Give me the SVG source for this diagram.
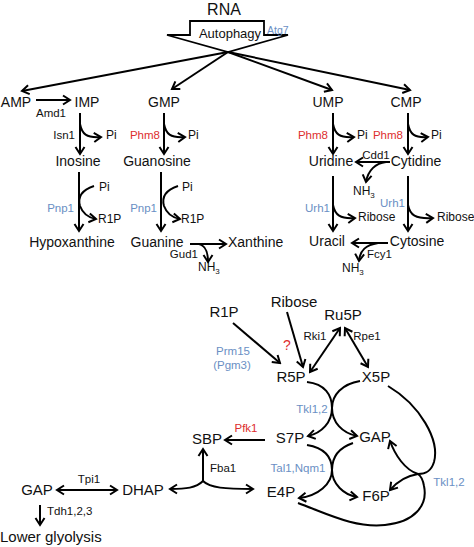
<svg xmlns="http://www.w3.org/2000/svg" width="474" height="547" viewBox="0 0 474 547">
<style>
text{font-family:"Liberation Sans",Arial,Helvetica,sans-serif;fill:#111}
.m{font-size:14px;text-anchor:middle}
.l{font-size:15px;text-anchor:middle}
.s{font-size:12px}
.e{font-size:11.5px}
.b{fill:#6a8fc4}
.r{fill:#dd2e2e}
.c path,.c line{fill:none;stroke:#000;stroke-width:2}
.a{marker-end:url(#ah)}
.d{marker-start:url(#ah);marker-end:url(#ah)}
</style>
<defs>
<marker id="ah" viewBox="-10 -6 12 12" markerWidth="12" markerHeight="12" refX="0" refY="0" orient="auto-start-reverse" markerUnits="userSpaceOnUse">
<path d="M-7,-4.5 L0,0 L-7,4.5" fill="none" stroke="#000" stroke-width="2"/>
</marker>
</defs>
<rect width="474" height="547" fill="#fff"/>

<g id="rna"><text x="224" y="15" class="l" style="font-size:16px">RNA</text></g>
<g id="autophagy">
<path d="M190,21 L264,21 L264,35 L288,35 L228,52 L167,35 L190,35 Z" fill="#fff" stroke="#000" stroke-width="1.8"/>
<text x="230" y="38" style="font-size:13px;text-anchor:middle">Autophagy</text>
<text x="267" y="34" class="b" style="font-size:10.5px">Atg7</text>
</g>

<g id="amp"><text x="16" y="107" class="m">AMP</text></g>
<g id="imp"><text x="87" y="107" class="m">IMP</text></g>
<g id="gmp"><text x="164" y="107" class="m">GMP</text></g>
<g id="ump"><text x="328" y="107" class="m">UMP</text></g>
<g id="cmp"><text x="406" y="107" class="m">CMP</text></g>
<g id="inosine"><text x="78" y="166" class="m">Inosine</text></g>
<g id="guanosine"><text x="157" y="166" class="m">Guanosine</text></g>
<g id="uridine"><text x="331" y="166" class="m">Uridine</text></g>
<g id="cytidine"><text x="416" y="166" class="m">Cytidine</text></g>
<g id="hypoxanthine"><text x="72" y="247" class="m">Hypoxanthine</text></g>
<g id="guanine"><text x="157" y="247" class="m">Guanine</text></g>
<g id="xanthine"><text x="228" y="247" style="font-size:14px">Xanthine</text></g>
<g id="uracil"><text x="327" y="246" class="m">Uracil</text></g>
<g id="cytosine"><text x="417" y="246" class="m">Cytosine</text></g>

<g id="byproducts1">
<text x="106" y="139" class="s">Pi</text>
<text x="188" y="139" class="s">Pi</text>
<text x="357" y="139" class="s">Pi</text>
<text x="431" y="139" class="s">Pi</text>
<text x="99" y="191" class="s">Pi</text>
<text x="182" y="191" class="s">Pi</text>
<text x="98" y="223" class="s">R1P</text>
<text x="181" y="223" class="s">R1P</text>
<text x="358" y="221" class="s">Ribose</text>
<text x="437" y="221" class="s">Ribose</text>
<text x="353" y="195" class="s">NH<tspan font-size="8" dy="3">3</tspan></text>
<text x="198" y="271" class="s">NH<tspan font-size="8" dy="3">3</tspan></text>
<text x="342" y="272" class="s">NH<tspan font-size="8" dy="3">3</tspan></text>
</g>

<g id="r1p"><text x="224" y="317" class="l">R1P</text></g>
<g id="ribose"><text x="294" y="307" class="l">Ribose</text></g>
<g id="ru5p"><text x="343" y="320" class="l">Ru5P</text></g>
<g id="r5p"><text x="291" y="382" class="l">R5P</text></g>
<g id="x5p"><text x="376" y="382" class="l">X5P</text></g>
<g id="s7p"><text x="290" y="443" class="l">S7P</text></g>
<g id="gap"><text x="375" y="442" class="l">GAP</text></g>
<g id="sbp"><text x="207" y="444" class="l">SBP</text></g>
<g id="e4p"><text x="281" y="497" class="l">E4P</text></g>
<g id="f6p"><text x="376" y="501" class="l">F6P</text></g>
<g id="gap2"><text x="37" y="495" class="l">GAP</text></g>
<g id="dhap"><text x="143" y="495" class="l">DHAP</text></g>
<g id="lower"><text x="0" y="542" style="font-size:15px">Lower glyolysis</text></g>

<g id="enzymes">
<text x="51" y="117" class="e" text-anchor="middle">Amd1</text>
<text x="75" y="139" class="e" text-anchor="end">Isn1</text>
<text x="160" y="139" class="e r" text-anchor="end">Phm8</text>
<text x="328" y="139" class="e r" text-anchor="end">Phm8</text>
<text x="403" y="139" class="e r" text-anchor="end">Phm8</text>
<text x="376" y="159" class="e" text-anchor="middle">Cdd1</text>
<text x="74" y="212" class="e b" text-anchor="end">Pnp1</text>
<text x="157" y="212" class="e b" text-anchor="end">Pnp1</text>
<text x="330" y="212" class="e b" text-anchor="end">Urh1</text>
<text x="405" y="207" class="e b" text-anchor="end">Urh1</text>
<text x="198" y="258" class="e" text-anchor="end">Gud1</text>
<text x="367" y="258" class="e">Fcy1</text>
<text x="233" y="355" class="e b" text-anchor="middle">Prm15</text>
<text x="232" y="369" class="e b" text-anchor="middle">(Pgm3)</text>
<text x="287" y="350" class="r" style="font-size:14px;text-anchor:middle">?</text>
<text x="315" y="340" class="e" text-anchor="middle">Rki1</text>
<text x="367" y="340" class="e" text-anchor="middle">Rpe1</text>
<text x="312" y="413" class="e b" text-anchor="middle">Tkl1,2</text>
<text x="246" y="432" class="e r" text-anchor="middle">Pfk1</text>
<text x="210" y="472" class="e">Fba1</text>
<text x="298" y="472" class="e b" text-anchor="middle">Tal1,Nqm1</text>
<text x="449" y="486" class="e b" text-anchor="middle">Tkl1,2</text>
<text x="89" y="483" class="e" text-anchor="middle">Tpi1</text>
<text x="47" y="515" class="e">Tdh1,2,3</text>
</g>

<g id="connectors" class="c">
<line class="a" x1="228" y1="52" x2="22" y2="91"/>
<line class="a" x1="228" y1="52" x2="172" y2="89"/>
<line class="a" x1="228" y1="52" x2="332" y2="90"/>
<line class="a" x1="228" y1="52" x2="410" y2="90"/>
<line class="a" x1="36" y1="100" x2="70" y2="100"/>

<line class="a" x1="80" y1="113" x2="80" y2="154"/>
<path class="a" d="M80,124 C82,134 86,138 101,137"/>
<line class="a" x1="164" y1="113" x2="164" y2="154"/>
<path class="a" d="M164,124 C166,134 170,138 185,137"/>
<line class="a" x1="333" y1="113" x2="333" y2="154"/>
<path class="a" d="M333,124 C335,134 339,138 354,137"/>
<line class="a" x1="408" y1="113" x2="408" y2="154"/>
<path class="a" d="M408,124 C410,134 414,138 428,137"/>

<line class="a" x1="390" y1="162" x2="356" y2="162"/>
<path class="a" d="M386,162 C376,163 368,170 366,182"/>

<line class="a" x1="79" y1="172" x2="79" y2="231"/>
<path class="a" d="M94,186 Q76,192 80,206 Q84,217 96,219"/>
<line class="a" x1="161" y1="172" x2="161" y2="231"/>
<path class="a" d="M178,186 Q160,192 164,206 Q168,217 180,219"/>
<line class="a" x1="333" y1="176" x2="333" y2="231"/>
<path class="a" d="M333,205 C335,215 340,219 355,218"/>
<line class="a" x1="408" y1="176" x2="408" y2="231"/>
<path class="a" d="M408,205 C410,215 415,219 433,218"/>

<line class="a" x1="190" y1="244" x2="226" y2="244"/>
<path class="a" d="M199,244 C206,246 208,252 208,262"/>
<line class="a" x1="388" y1="243" x2="352" y2="243"/>
<path class="a" d="M378,243 C366,245 360,250 359,261"/>

<line class="a" x1="233" y1="323" x2="280" y2="363"/>
<line class="a" x1="287" y1="312" x2="303" y2="367"/>
<line class="d" x1="310" y1="372" x2="340" y2="328"/>
<line class="d" x1="345" y1="328" x2="368" y2="367"/>

<path class="a" d="M307,382 C325,384 332,395 332,408 C332,422 322,433 308,436"/>
<path class="a" d="M360,381 C342,384 332,395 332,408 C332,422 342,433 357,436"/>
<path class="a" d="M307,445 C325,448 332,458 332,470 C332,484 318,496 299,498"/>
<path class="a" d="M353,443 C338,448 332,458 332,470 C332,484 344,495 357,497"/>

<path d="M388,386 C420,405 440,440 434,462 C431,472 425,474 418,474"/>
<path d="M298,503 C330,515 355,528 385,525 C415,522 428,505 424,486 C423,480 421,476 418,474"/>
<path class="a" d="M418,474 C405,470 395,455 390,441"/>
<path class="a" d="M418,474 C405,476 396,483 390,490"/>

<line class="a" x1="265" y1="440" x2="225" y2="440"/>
<line class="a" x1="203" y1="481" x2="203" y2="449"/>
<path class="a" d="M203,481 C196,488 186,489 170,489"/>
<path class="a" d="M203,481 C210,488 225,489 253,489"/>

<line class="d" x1="57" y1="490" x2="117" y2="490"/>
<line class="a" x1="40" y1="505" x2="40" y2="525"/>
</g>
</svg>
